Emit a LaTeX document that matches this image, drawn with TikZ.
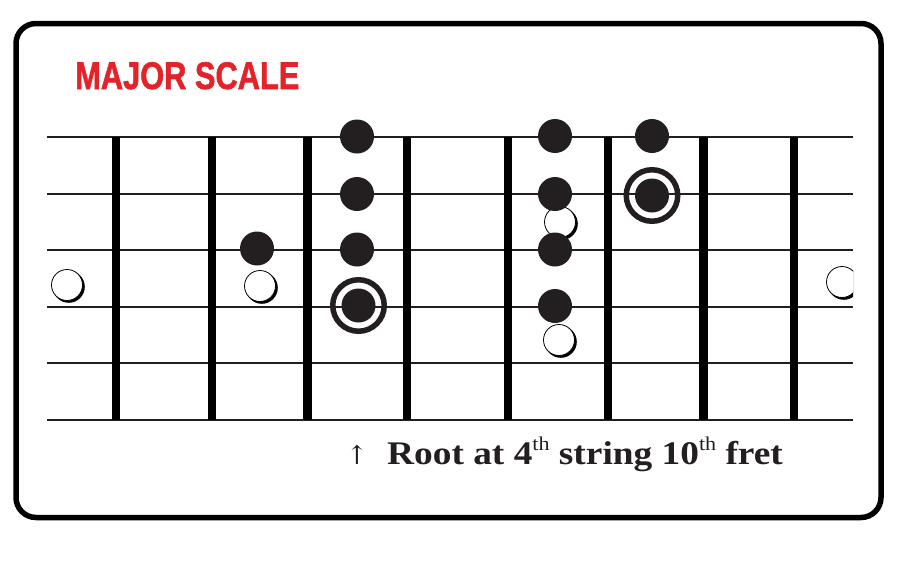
\documentclass[tikz,border=0pt]{standalone}
\usepackage{fontspec}
\setmainfont{Liberation Serif}
\newfontfamily\titlefont[FakeBold=1.6]{Liberation Sans}
\newfontfamily\arrowfont{DejaVu Serif}
\usepackage{graphicx}
\definecolor{ink}{HTML}{231F20}
\definecolor{titlered}{HTML}{E3232A}
\newcommand{\thsup}{\raisebox{14pt}{\fontsize{19.5}{20}\selectfont\mdseries th}}
\begin{document}
\begin{tikzpicture}[x=1pt,y=-1pt,
  stringline/.style={line width=2pt,ink},
  fretline/.style={line width=8.5pt,black},
  dot/.style={circle,fill=ink,minimum size=34pt,inner sep=0pt},
  ring/.style={circle,draw=ink,line width=5.5pt,minimum size=51.5pt,inner sep=0pt},
  opendot/.style={circle,fill=white,draw=black,line width=0.8pt,minimum size=31pt,inner sep=0pt},
  openshadow/.style={circle,fill=black,minimum size=32pt,inner sep=0pt},
  frame/.style={line width=5.5pt,black,rounded corners=20pt}]
\useasboundingbox (0,0) rectangle (900,581);
\fill[white] (0,0) rectangle (900,581);
\draw[frame] (16,23.5) rectangle (881,517.5);
% title
\node[anchor=base west,inner sep=0pt,text=titlered] (title) at (75,89)
  {\scalebox{0.80}[1]{\titlefont\bfseries\fontsize{38.5}{40}\selectfont MAJOR SCALE}};
% strings
\foreach \y [count=\i] in {137,193.5,250,306.7,363.3,420}
  \draw[stringline] (47,\y) -- (853,\y);
% frets
\foreach \x in {116,212,307.5,407,508,608,703.5,794}
  \draw[fretline] (\x,137) -- (\x,420);
% open notes (with shadow)
\foreach \nm/\x/\y in {oa/67/285,ob/260/286,oc/560/222,od/559/340}{
  \node[openshadow] (\nm s) at (\x+1.8,\y+1.8) {};
  \node[opendot] (\nm) at (\x,\y) {};
}
\begin{scope}
\clip (800,200) rectangle (853,360);
\node[openshadow] (oes) at (843.8,283.8) {};
\node[opendot] (oe) at (842,282) {};
\end{scope}
% filled notes
\node[dot] (d1) at (357,136.5) {};
\node[dot] (d2) at (357,194) {};
\node[dot] (d3) at (357,249.5) {};
\node[dot] (d4) at (257,248.5) {};
\node[dot] (d5) at (555,136) {};
\node[dot] (d6) at (555,194) {};
\node[dot] (d7) at (555,249.5) {};
\node[dot] (d8) at (555,306) {};
\node[dot] (d9) at (652,136) {};
% roots
\node[dot] (r1) at (358.5,305.5) {};
\node[ring] (r1ring) at (358.5,305.5) {};
\node[dot] (r2) at (652,195.5) {};
\node[ring] (r2ring) at (652,195.5) {};
% caption
\node[anchor=base west,inner sep=0pt,text=ink] (arrow) at (346,464)
  {\arrowfont\fontsize{26}{28}\selectfont ↑};
\node[anchor=base west,inner sep=0pt,text=ink] (caption) at (387,464)
  {\scalebox{1.132}[1]{\bfseries\fontsize{33}{35}\selectfont Root at 4\thsup\ string 10\thsup\ fret}};
\end{tikzpicture}
\end{document}
